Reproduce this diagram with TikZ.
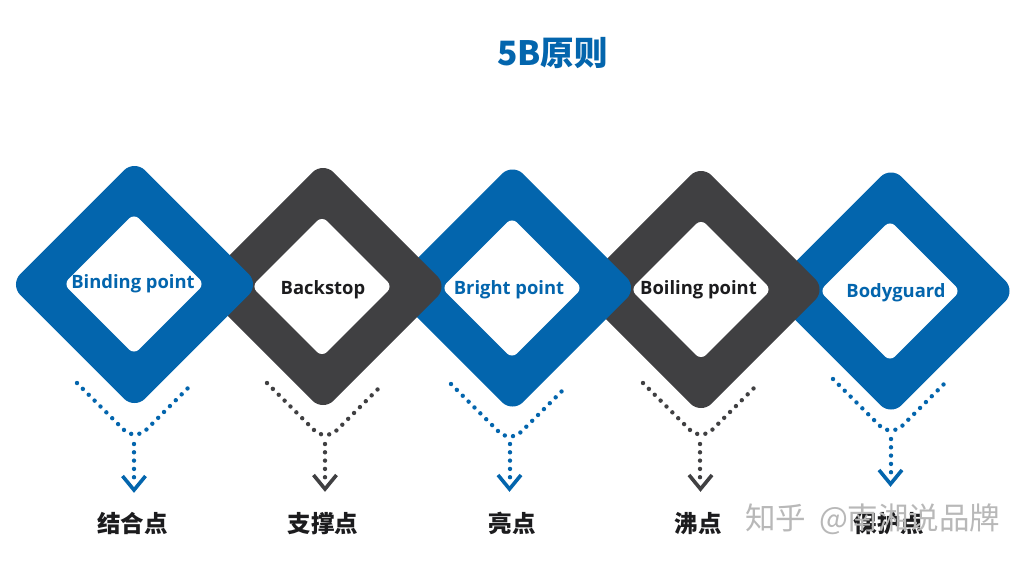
\documentclass[tikz,border=0pt]{standalone}
\usepackage{fontspec}
\setmainfont{Open Sans}
\newfontfamily\cjk{Noto Sans CJK SC}
\usetikzlibrary{shapes.geometric}
\definecolor{bluec}{HTML}{0365AD}
\definecolor{darkc}{HTML}{404042}
\definecolor{inkc}{HTML}{1C1C1E}
\definecolor{markc}{HTML}{B8B8B8}
\tikzset{
  outerd/.style={shape=diamond,aspect=1,inner sep=0pt,minimum size=249.6pt,rounded corners=15pt,fill=#1},
  innerd/.style={shape=diamond,aspect=1,inner sep=0pt,minimum size=141pt,rounded corners=7pt,fill=white},
  eng/.style={inner sep=0pt,font=\fontsize{18.4}{19}\selectfont\bfseries,text=#1},
  zh/.style={inner sep=0pt,font=\fontsize{23.5}{24}\selectfont\cjk\bfseries,text=inkc},
  dots/.style={draw=#1,line width=4.4pt,line cap=round,dash pattern=on 0pt off 8.3pt},
  chev/.style={draw=#1,line width=3.6pt,miter limit=4}
}
\begin{document}
\begin{tikzpicture}[x=1pt,y=-1pt]
\useasboundingbox[fill=white] (0,0) rectangle (1024,563);
\node[inner sep=0pt,text=bluec,font=\fontsize{33.5}{34}\selectfont\cjk\bfseries] (title) at (552.5,53.5) {5B原则};
% diamonds, back to front
\foreach \n/\cx/\cy/\col in {5/891/291/bluec,4/701/289.5/darkc,3/512.5/288/bluec,2/323/286.5/darkc,1/134.5/284.5/bluec}{
  \node[outerd=\col] (outer\n) at (\cx,\cy) {};
}
\foreach \n/\cx/\cy in {5/890/291,4/701/289.5,3/512/288,2/322/286.5,1/134/284}{
  \node[innerd] (inner\n) at (\cx,\cy) {};
}
\node[eng=bluec] (t1) at (133,284) {Binding point};
\node[eng=inkc] (t2) at (323,290) {Backstop};
\node[eng=bluec] (t3) at (509,290) {Bright point};
\node[eng=inkc] (t4) at (698.5,290) {Boiling point};
\node[eng=bluec] (t5) at (896,293) {Bodyguard};
% dotted funnels and arrows
\foreach \n/\ax/\ay/\vx/\vy/\bx/\by/\sx/\sy/\ex/\ey/\hx/\hy/\col in {
  1/77/383/135/441/188/388/134/444/134/480/134/490/bluec,
  2/267/383/325.5/441.5/380/387/325/444/325/480/325/489/darkc,
  3/451/384/510/443/565/388/510/444/510/480/509.5/489/bluec,
  4/643/383/701/441/754/388/700/444/700/480/700.5/489/darkc,
  5/833/379/891/437/945/383/891/439/891/475/890.5/484/bluec}{
  \coordinate (a\n) at (\ax,\ay);
  \coordinate (v\n) at (\vx,\vy);
  \coordinate (b\n) at (\bx,\by);
  \coordinate (s\n) at (\sx,\sy);
  \coordinate (e\n) at (\ex,\ey);
  \coordinate (h\n) at (\hx,\hy);
  \path[dots=\col,rounded corners=16pt] (a\n) -- (v\n) -- (b\n);
  \path[dots=\col] (s\n) -- (e\n);
  \path[chev=\col] ([shift={(-11.5,-14)}]h\n) -- (h\n) -- ([shift={(11.5,-14)}]h\n);
}
\node[zh] (l1) at (132.5,523.5) {结合点};
\node[zh] (l2) at (323,523.5) {支撑点};
\node[zh] (l3) at (512,523.5) {亮点};
\node[zh] (l4) at (698,523.5) {沸点};
\node[zh] (l5) at (889,523.5) {保护点};
\node[anchor=west,inner sep=0pt,text=markc,font=\fontsize{30.5}{31}\selectfont\cjk] (wm) at (745,519) {知乎\hspace{6pt} @南湘说品牌};
\end{tikzpicture}
\end{document}
